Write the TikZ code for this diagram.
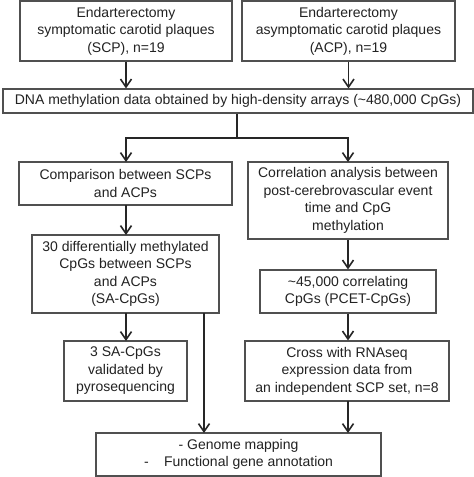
\documentclass[tikz,border=0pt]{standalone}
\usepackage{fontspec}
\setmainfont{Liberation Sans}
\usetikzlibrary{arrows.meta,calc}
\definecolor{boxline}{HTML}{505050}
\definecolor{txt}{HTML}{222222}
\begin{document}
\begin{tikzpicture}[x=1pt,y=-1pt,
  box/.style={draw=boxline,line width=1.1pt,inner sep=0pt,align=center,text=txt,
    font=\fontsize{14}{17.5}\selectfont},
  arr/.style={line width=1.8pt,draw=black!85,-{Straight Barb[length=8pt,width=11pt,line width=1.6pt]}},
  ln/.style={line width=1.8pt,draw=black!85}]
\useasboundingbox (0,0) rectangle (474,477);
\fill[white] (0,0) rectangle (474,477);
\node[box,minimum width=212pt,minimum height=60pt] (scp) at (126,31)
  {Endarterectomy\\symptomatic carotid plaques\\(SCP), n=19};
\node[box,minimum width=213pt,minimum height=60pt] (acp) at (348.5,31)
  {Endarterectomy\\asymptomatic carotid plaques\\(ACP), n=19};
\node[box,minimum width=470pt,minimum height=24pt] (dna) at (238,101)
  {DNA methylation data obtained by high-density arrays (\textasciitilde480,000 CpGs)};
\node[box,minimum width=213pt,minimum height=43pt] (cmp) at (125.5,183.5)
  {Comparison between SCPs\\and ACPs};
\node[box,minimum width=200pt,minimum height=77pt] (cor) at (348,200.5)
  {Correlation analysis between\\post-cerebrovascular event\\time and CpG\\methylation};
\node[box,minimum width=187pt,minimum height=78pt] (dif) at (125.5,274)
  {30 differentially methylated\\CpGs between SCPs\\and ACPs\\(SA-CpGs)};
\node[box,minimum width=176pt,minimum height=43pt] (pcet) at (348,291.5)
  {\textasciitilde45,000 correlating\\CpGs (PCET-CpGs)};
\node[box,minimum width=123pt,minimum height=60pt] (val) at (125.5,371)
  {3 SA-CpGs\\validated by\\pyrosequencing};
\node[box,minimum width=204pt,minimum height=60pt] (crs) at (347,371)
  {Cross with RNAseq\\expression data from\\an independent SCP set, n=8};
\node[box,minimum width=285pt,minimum height=43pt] (gen) at (238.5,454.5)
  {- Genome mapping\\-\hspace{1.1em}Functional gene annotation};
\coordinate (jn) at (237,138);
\draw[arr] (scp.south) -- (scp.south |- dna.north);
\draw[arr] (acp.south) -- (acp.south |- dna.north);
\draw[ln] (dna.south -| jn) -- (jn);
\draw[arr] (jn) -| (126,162);
\draw[arr] (jn) -| (348,162);
\draw[arr] (126,205) -- (126,235);
\draw[arr] (cor.south) -- (cor.south |- pcet.north);
\draw[arr] (126,313) -- (126,341);
\draw[arr] (204,313) -- (204,433);
\draw[arr] (pcet.south) -- (pcet.south |- crs.north);
\draw[arr] (348,401) -- (348,433);
\end{tikzpicture}
\end{document}
